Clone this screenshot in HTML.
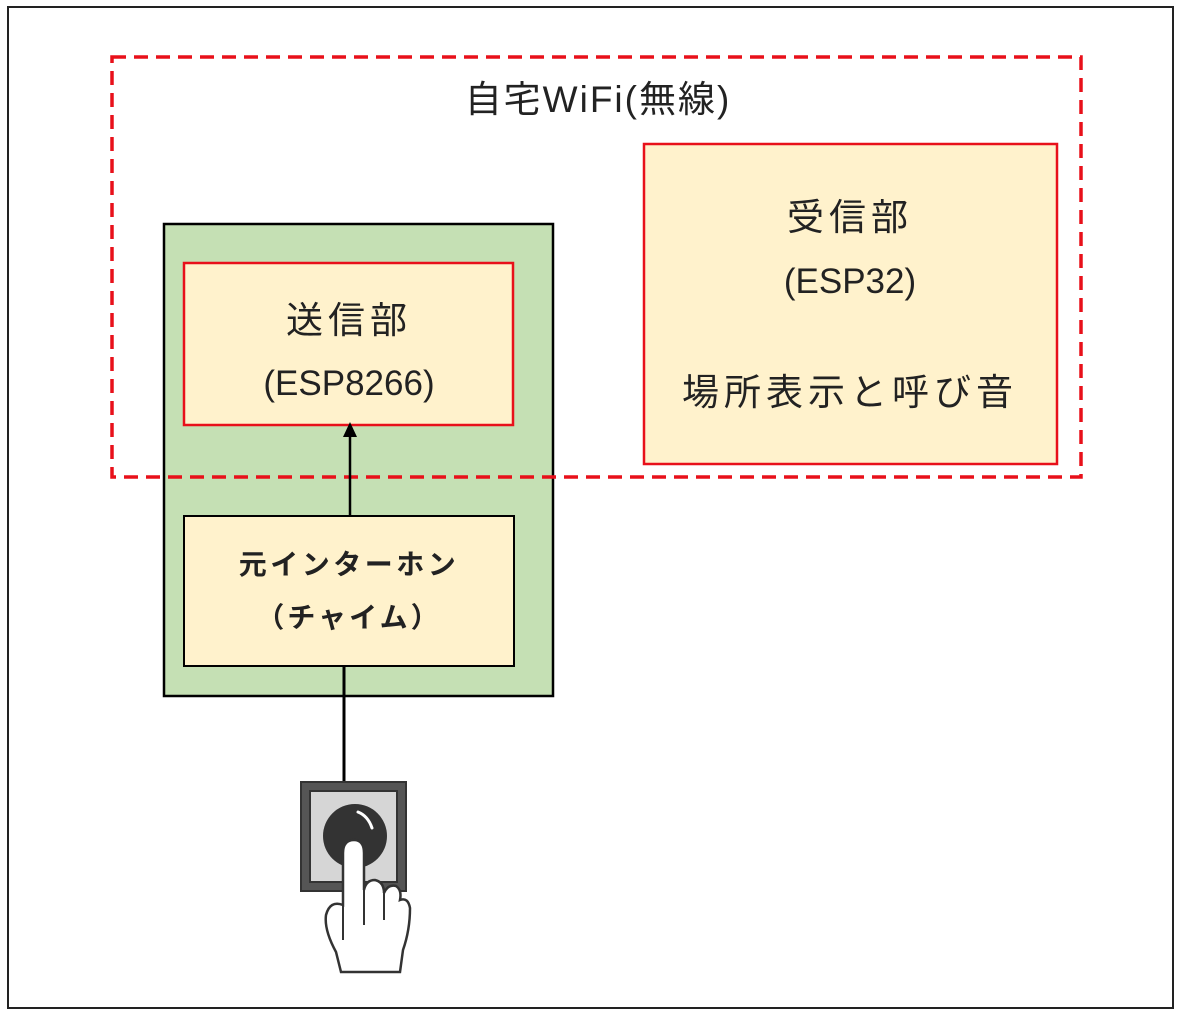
<!DOCTYPE html>
<html><head><meta charset="utf-8"><style>
html,body{margin:0;padding:0;background:#fff;}
svg{display:block;}
text{font-family:"Liberation Sans","Noto Sans CJK JP",sans-serif;fill:#222;}
</style></head><body>
<svg width="1180" height="1014" viewBox="0 0 1180 1014" xmlns="http://www.w3.org/2000/svg">
<rect x="8" y="7" width="1165" height="1001" fill="#fff" stroke="#222" stroke-width="2"/>
<rect x="164" y="224" width="389" height="472" fill="#c5e0b4" stroke="#000" stroke-width="2.5"/>
<rect x="184" y="263" width="329" height="162" fill="#fff2cc" stroke="#e8101a" stroke-width="2.5"/>
<rect x="644" y="144" width="413" height="320" fill="#fff2cc" stroke="#e8101a" stroke-width="2.5"/>
<rect x="112" y="57" width="969" height="420" fill="none" stroke="#e8101a" stroke-width="3.5" stroke-dasharray="14,8"/>
<rect x="184" y="516" width="330" height="150" fill="#fff2cc" stroke="#000" stroke-width="2"/>
<line x1="350" y1="516" x2="350" y2="434" stroke="#000" stroke-width="2.5"/>
<polygon points="350,422 343,437 357,437" fill="#000"/>
<line x1="344" y1="666" x2="344" y2="782" stroke="#000" stroke-width="3"/>
<text x="598" y="112" font-size="37" letter-spacing="2" text-anchor="middle">自宅WiFi(無線)</text>
<text x="349" y="333" font-size="37" letter-spacing="5" text-anchor="middle">送信部</text>
<text x="349" y="395" font-size="35" text-anchor="middle">(ESP8266)</text>
<text x="850" y="230" font-size="37" letter-spacing="5" text-anchor="middle">受信部</text>
<text x="850" y="293" font-size="35" text-anchor="middle">(ESP32)</text>
<text x="850" y="405" font-size="37" letter-spacing="5" text-anchor="middle">場所表示と呼び音</text>
<text x="349" y="574" font-size="28" font-weight="bold" letter-spacing="3.5" text-anchor="middle">元インターホン</text>
<text x="349" y="627" font-size="28" font-weight="bold" letter-spacing="3" text-anchor="middle">（チャイム）</text>
<rect x="301" y="782" width="105" height="109" fill="#555" stroke="#333" stroke-width="2"/>
<rect x="310" y="791" width="87" height="91" fill="#d6d6d6" stroke="#333" stroke-width="2"/>
<circle cx="355" cy="836" r="32" fill="#333"/>
<path d="M358 812 Q368 816 372 828" stroke="#fff" stroke-width="3" fill="none" stroke-linecap="round"/>
<path d="M341 972 L336 952 Q324 930 326 915 Q330 900 343 905 L343 853 Q343 840 354 840 Q364 840 364 853 L364 890 Q366 880 375 880 Q384 882 384 893 Q388 884 396 886 Q402 890 400 900 Q408 897 410 908 Q410 930 403 950 L400 972 Z" fill="#fff" stroke="#333" stroke-width="2.5"/>
<path d="M343 905 L343 940 M364 890 L364 925 M384 893 L384 920" stroke="#333" stroke-width="2" fill="none"/>
</svg>
</body></html>
